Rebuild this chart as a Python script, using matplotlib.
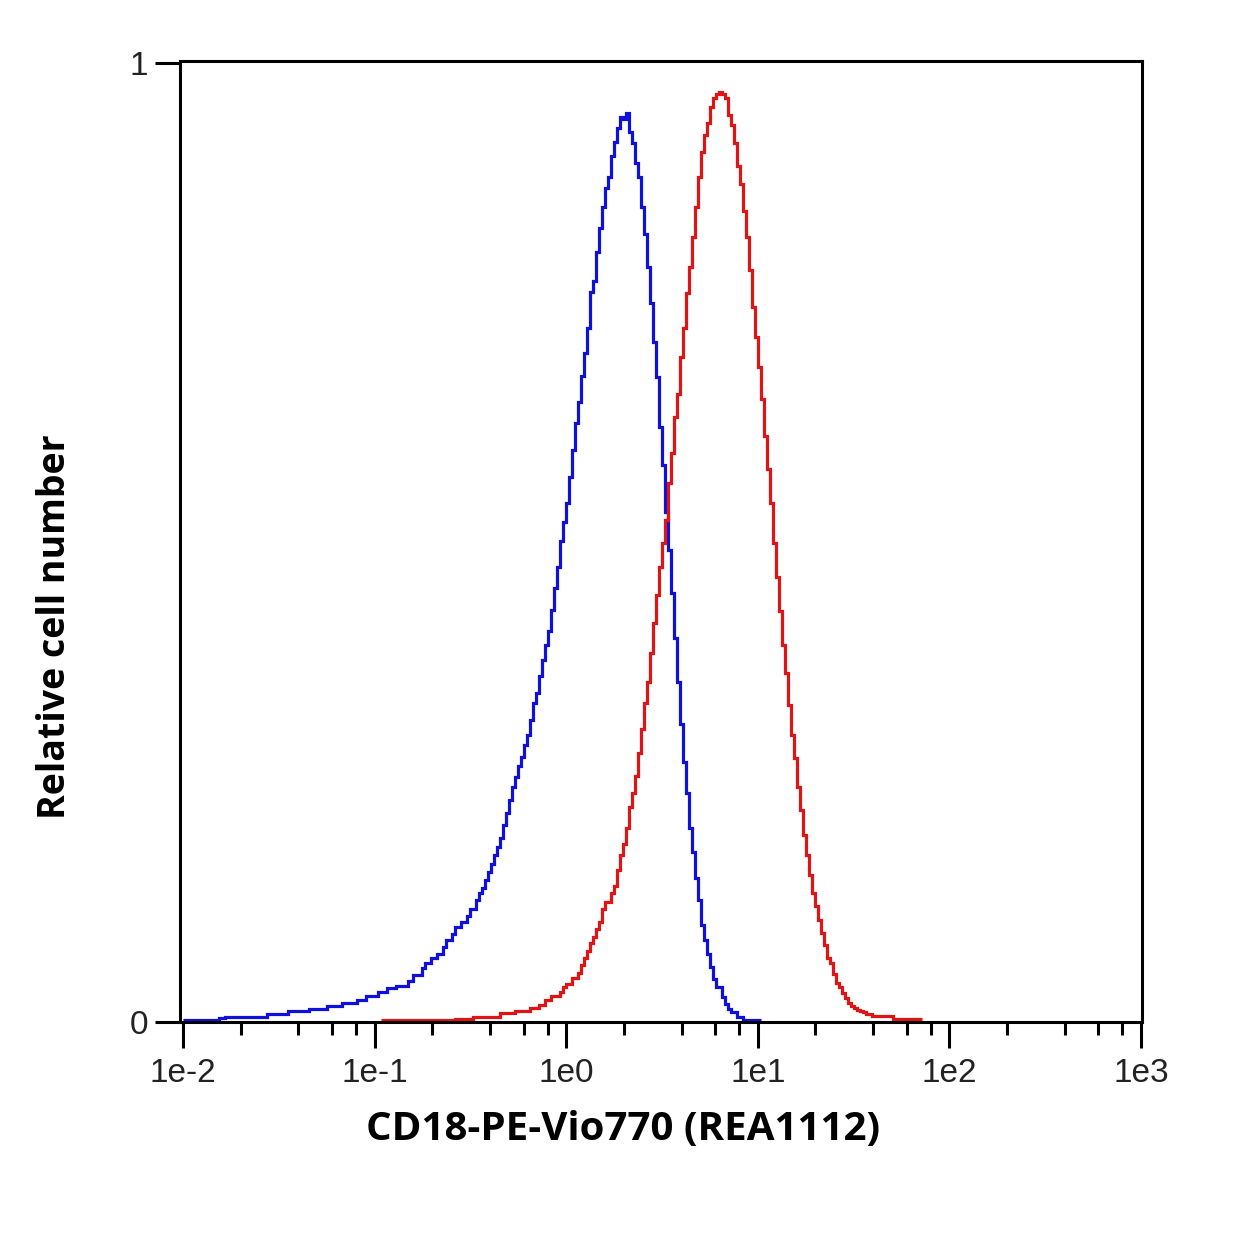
import numpy as np
import matplotlib
matplotlib.use("Agg")
import matplotlib.pyplot as plt

# histogram channels: 64 per decade from 1e-2 to 1e3
bins_per_decade = 64
n_bins = 320

# relative cell number per channel
blue_start = 0
blue = [
    0.002, 0.002, 0.002, 0.002, 0.002, 0.002, 0.002, 0.002, 0.002, 0.002, 0.002, 0.002,
    0.004, 0.004,
    0.005, 0.005, 0.005, 0.005, 0.005, 0.005, 0.005, 0.005, 0.005, 0.005, 0.005, 0.005, 0.005, 0.005,
    0.008, 0.008, 0.008, 0.008, 0.008, 0.008, 0.008,
    0.011, 0.011, 0.011, 0.011, 0.011, 0.011, 0.011,
    0.014, 0.014, 0.014, 0.014, 0.014, 0.014,
    0.017, 0.017, 0.017, 0.017, 0.017,
    0.020, 0.020, 0.020, 0.020, 0.020,
    0.023, 0.023, 0.023,
    0.027, 0.027, 0.027, 0.027,
    0.031, 0.031, 0.031,
    0.035, 0.035, 0.035,
    0.038, 0.038, 0.038, 0.038,
    0.043, 0.043,
    0.049, 0.049, 0.049,
    0.056, 0.061, 0.061, 0.067, 0.067, 0.071, 0.071, 0.078, 0.085, 0.085,
    0.092, 0.099, 0.099, 0.104, 0.104, 0.111, 0.118, 0.118, 0.127, 0.134,
    0.140, 0.148, 0.156, 0.165, 0.174, 0.182, 0.192, 0.205, 0.218, 0.231,
    0.245, 0.255, 0.267, 0.276, 0.289, 0.299, 0.315, 0.333, 0.343, 0.361,
    0.377, 0.393, 0.408, 0.430, 0.452, 0.474, 0.502, 0.521, 0.541, 0.568,
    0.596, 0.625, 0.646, 0.674, 0.698, 0.724, 0.761, 0.773, 0.803, 0.828,
    0.850, 0.870, 0.881, 0.903, 0.918, 0.932, 0.944, 0.942, 0.948, 0.928,
    0.917, 0.896, 0.881, 0.850, 0.822, 0.787, 0.750, 0.709, 0.672, 0.620,
    0.581, 0.532, 0.492, 0.447, 0.400, 0.354, 0.311, 0.271, 0.239, 0.202,
    0.177, 0.150, 0.127, 0.101, 0.085, 0.071, 0.057, 0.045, 0.036, 0.036,
    0.026, 0.019, 0.014, 0.010, 0.010, 0.005, 0.005,
    0.002, 0.002, 0.002, 0.002, 0.002, 0.002,
]

red_start = 66
red = [
    0.002, 0.002, 0.002, 0.002, 0.002, 0.002, 0.002, 0.002, 0.002, 0.002,
    0.002, 0.002, 0.002, 0.002, 0.002, 0.002, 0.002, 0.002, 0.002, 0.002,
    0.002, 0.002, 0.002, 0.002, 0.002,
    0.003, 0.003, 0.003, 0.003, 0.003, 0.003,
    0.005, 0.005, 0.005, 0.005, 0.005, 0.005, 0.005, 0.005, 0.005,
    0.009, 0.009, 0.009, 0.009, 0.009,
    0.011, 0.011, 0.011, 0.011, 0.011,
    0.015, 0.015, 0.015,
    0.018, 0.018,
    0.023, 0.023,
    0.027, 0.027, 0.027,
    0.031, 0.036, 0.040, 0.040, 0.046, 0.046, 0.051, 0.059, 0.067, 0.074,
    0.082, 0.089, 0.097, 0.104, 0.118, 0.125, 0.125, 0.134, 0.142, 0.158,
    0.174, 0.186, 0.202, 0.224, 0.239, 0.257, 0.280, 0.306, 0.333, 0.354,
    0.385, 0.416, 0.445, 0.474, 0.499, 0.523, 0.562, 0.593, 0.631, 0.655,
    0.693, 0.724, 0.760, 0.787, 0.818, 0.850, 0.881, 0.907, 0.925, 0.937,
    0.954, 0.963, 0.968, 0.970, 0.968, 0.963, 0.946, 0.935, 0.916, 0.893,
    0.874, 0.846, 0.818, 0.784, 0.745, 0.714, 0.683, 0.650, 0.611, 0.577,
    0.541, 0.499, 0.464, 0.429, 0.393, 0.364, 0.331, 0.299, 0.275, 0.245,
    0.221, 0.195, 0.174, 0.153, 0.134, 0.121, 0.106, 0.093, 0.080, 0.067,
    0.061, 0.050, 0.041, 0.036, 0.030, 0.025, 0.020, 0.017, 0.015, 0.013,
    0.011, 0.010, 0.008, 0.008,
    0.006, 0.006, 0.006, 0.006, 0.006, 0.006, 0.006,
    0.003, 0.003, 0.003, 0.003, 0.003, 0.003, 0.003, 0.003, 0.003, 0.003,
]

x_major = [1e-2, 1e-1, 1e0, 1e1, 1e2, 1e3]
x_labels = ["1e-2", "1e-1", "1e0", "1e1", "1e2", "1e3"]
y_major = [0, 1]
y_labels = ["0", "1"]

edges = 10.0 ** (-2 + np.arange(n_bins + 1) / bins_per_decade)

fig = plt.figure(figsize=(12.5, 12.5), dpi=100)
ax = fig.add_axes([0.144, 0.1824, 0.7696, 0.7688])

ax.stairs(blue, edges[blue_start:blue_start + len(blue) + 1], baseline=None,
          color="#1010dc", linewidth=2.3)
ax.stairs(red, edges[red_start:red_start + len(red) + 1], baseline=None,
          color="#e01414", linewidth=2.3)

ax.set_xscale("log")
ax.set_xlim(0.00965, 1012)
ax.set_ylim(0, 1.002)

minor = [d * m for d in x_major[:-1] for m in (2, 4, 6, 8)]
ax.xaxis.set_major_locator(matplotlib.ticker.FixedLocator(x_major))
ax.xaxis.set_minor_locator(matplotlib.ticker.FixedLocator(minor))
ax.xaxis.set_minor_formatter(matplotlib.ticker.NullFormatter())
ax.set_xticklabels(x_labels)
ax.set_yticks(y_major)
ax.set_yticklabels(y_labels)

tick_font = ["Liberation Sans Narrow", "Liberation Sans"]
for lab in ax.get_xticklabels() + ax.get_yticklabels():
    lab.set_family(tick_font)
    lab.set_fontsize(24)
    lab.set_color("#222222")

ax.tick_params(axis="x", which="major", direction="out", length=19, width=2.2, pad=7)
ax.tick_params(axis="x", which="minor", direction="out", length=9.5, width=2.2)
ax.tick_params(axis="y", which="major", direction="out", length=18, width=2.2, pad=5)

for sp in ax.spines.values():
    sp.set_linewidth(2.2)
    sp.set_color("black")

# axis titles sit a bit off-centre in the original
fig.text(0.4984, 0.096, "CD18-PE-Vio770 (REA1112)", fontsize=29, fontweight="bold",
         family="Open Sans", ha="center", va="center")
fig.text(0.044, 0.499, "Relative cell number", fontsize=27, fontweight="bold",
         family="Open Sans", ha="center", va="center", rotation=90)

fig.savefig("out.png", dpi=100, facecolor="white")
